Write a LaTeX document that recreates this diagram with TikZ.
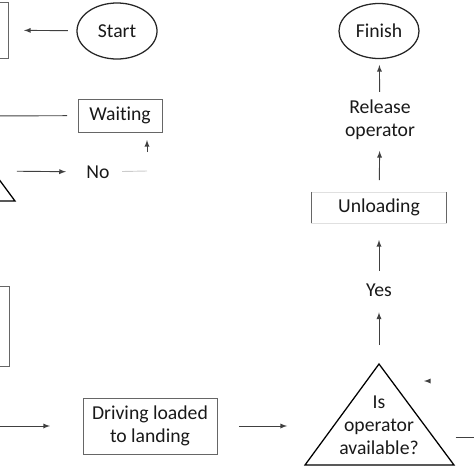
\documentclass[tikz,border=0pt]{standalone}
\usepackage{fontspec}
\setmainfont[Ligatures=NoCommon]{Carlito}
\usepackage{tikz}
\usetikzlibrary{arrows,positioning,shapes}
\definecolor{linegray}{rgb}{.25,.25,.25}
\definecolor{boxgray}{rgb}{.4,.4,.4}

\begin{document}
\begin{tikzpicture}[% 1 unit = 1 pixel of the reference, y grows downwards
					x=0.025cm,y=-0.025cm,
					every node/.style={
						align=center,  		% so that "\\" breaks the line
						inner sep=0pt,
						outer sep=0pt,
						text=black!90,
						font=\fontsize{14}{16.5}\selectfont
						},
					every edge/.style={draw=linegray,line width=0.65pt},
					box/.style={rectangle,draw=boxgray,line width=0.6pt},
					oval/.style={ellipse,draw=black!85,line width=0.9pt,minimum width=2cm},
					tri/.style={draw=black,line width=0.9pt,line join=miter}
					]
\clip (0,0) rectangle (474,474);
% nodes of the top row
\node[box,minimum width=1.9cm,minimum height=1.4cm](B1) at (-30,30){};
\node[oval,minimum height=1.4cm](S) at (117,31){Start};
\node[oval,minimum height=1.375cm](F) at (379,31){Finish};
\node[box,minimum width=2.1cm,minimum height=0.825cm](W) at (120,115.5){Waiting};
\node(R) at (380,120){Release\\operator};
\node[box,draw=black!12,minimum width=3.375cm,minimum height=0.775cm](U) at (379,207.5){Unloading};
\draw[boxgray,line width=0.7pt] (U.north west) -- (U.south west) (U.north east) -- (U.south east);
\node(No) at (98,172){No};
% left decision, cut by the frame
\coordinate (T1a) at (-59.5,100);
\coordinate (T1l) at (-134,201);
\coordinate (T1r) at (15,201);
\draw[tri] (T1a) -- (T1l) -- (T1r) -- cycle;
\coordinate (T1e) at (-7,171);
% lower part
\node[box,minimum width=1.95cm,minimum height=2cm](B2) at (-30,326){};
\node(Y) at (379,290){Yes};
\node[box,minimum width=3.35cm,minimum height=1.4cm](D) at (150,426){Driving loaded\\to landing};
\coordinate (Qa) at (379,364);
\coordinate (Ql) at (305,465);
\coordinate (Qr) at (454,465);
\draw[tri] (Qa) -- (Ql) -- (Qr) -- cycle;
\node(Q) at (379,425){Is\\operator\\available?};
\coordinate (Qw) at (333,426);
\coordinate (Qe) at (433,437);
\coordinate (WL) at (-20,116);
\coordinate (NC) at (147,171);
\coordinate (DL) at (-20,426);
\coordinate (QE) at (490,437);
\coordinate (K) at (429,381);
\path[-latex]
(S)edge [shorten <=6.4pt,shorten >=11.4pt]     node [] {} (B1)
(W)edge [shorten <=7.8pt]     node [] {} (WL)
(T1e)edge [shorten <=17pt,shorten >=14.6pt]     node [] {} (No)
(NC)edge [shorten <=13.5pt,shorten >=5.7pt]     node [] {} (NC |- W.south)
(DL)edge [shorten >=23.5pt]     node [] {} (D)
(D)edge [shorten <=15.6pt,shorten >=32.7pt]     node [] {} (Qw)
(Qa)edge [shorten <=13.5pt,shorten >=11.4pt]     node [] {} (Y)
(Y)edge [shorten <=9.2pt,shorten >=12.1pt]     node [] {} (U)
(U)edge [shorten <=8.5pt,shorten >=7.8pt]     node [] {} (R)
(R)edge [shorten <=5.7pt,shorten >=4.6pt]     node [] {} (F)
(K)edge []     node [] {} ++(-5,0)
;
\path
(No)edge [draw=black!20,shorten <=8.9pt]     node [] {} (NC)
(Qe)edge [shorten <=16pt]     node [] {} (QE)
;
\end{tikzpicture}
\end{document}
